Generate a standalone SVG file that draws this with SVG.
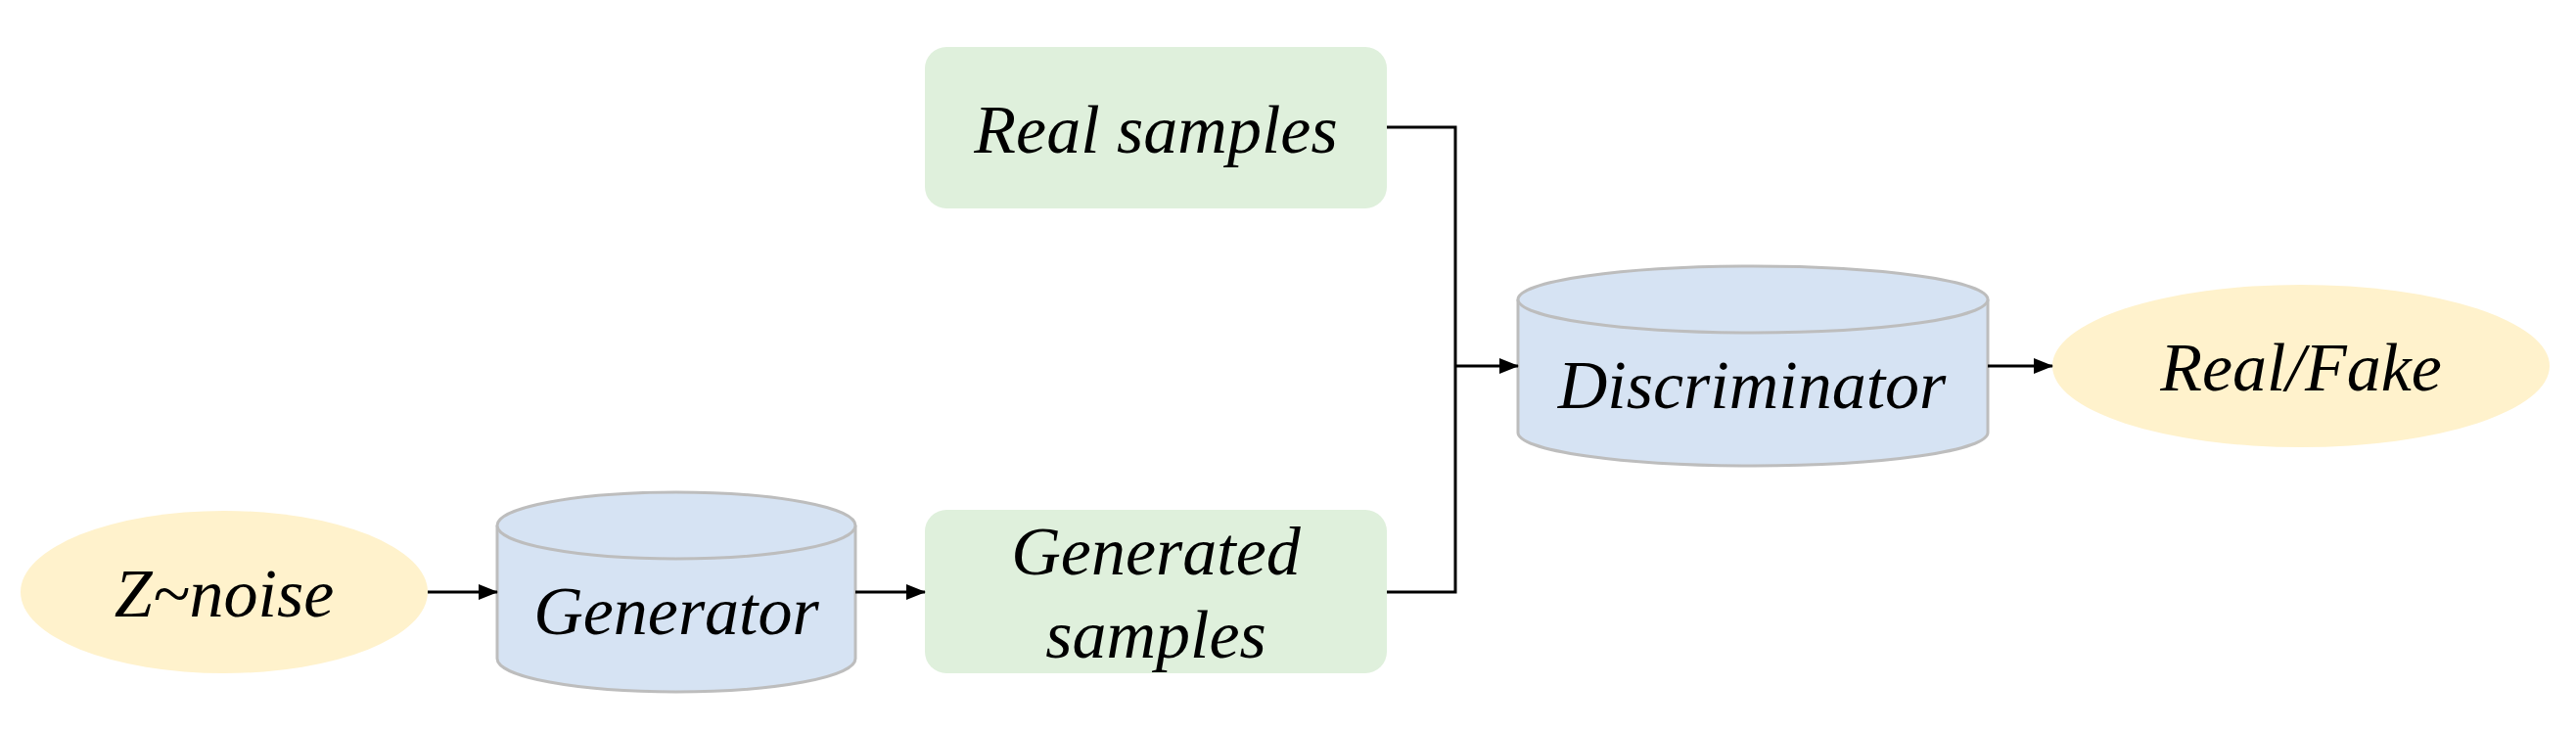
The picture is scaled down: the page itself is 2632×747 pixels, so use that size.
<svg xmlns="http://www.w3.org/2000/svg" width="2632" height="747" viewBox="0 0 2632 747">
<defs>
<style>
.t{font-family:"Liberation Serif","Times New Roman",serif;font-style:italic;font-size:70px;fill:#000;text-anchor:middle}
.ell{fill:#fff2cc;stroke:none}
.box{fill:#dff0dc;stroke:none}
.cyl{fill:#d6e3f3;stroke:#bdbdbd;stroke-width:3}
.c{fill:none;stroke:#000;stroke-width:3}
</style>
<marker id="a" markerWidth="10" markerHeight="10" refX="9" refY="5" orient="auto" markerUnits="userSpaceOnUse" viewBox="0 0 10 10"><path d="M0,0L10,5L0,10Z" fill="#000" transform="scale(1)"/></marker>
<marker id="ah" viewBox="0 0 20 20" markerWidth="20" markerHeight="20" refX="19" refY="10" orient="auto" markerUnits="userSpaceOnUse"><path d="M0,2L20,10L0,18Z" fill="#000"/></marker>
</defs>
<g id="noise"><ellipse class="ell" cx="229" cy="605" rx="208" ry="83"/><text class="t" x="229" y="630">Z~noise</text></g>
<g id="generator"><path class="cyl" d="M508,537 V673 A183,34 0 0 0 874,673 V537 A183,34 0 0 0 508,537 Z"/><path class="cyl" d="M508,537 A183,34 0 0 0 874,537"/><text class="t" x="691" y="648">Generator</text></g>
<g id="real"><rect class="box" x="945" y="48" width="472" height="165" rx="22"/><text class="t" x="1181" y="156">Real samples</text></g>
<g id="generated"><rect class="box" x="945" y="521" width="472" height="167" rx="22"/><text class="t" x="1181" y="587">Generated</text><text class="t" x="1181" y="672">samples</text></g>
<g id="discriminator"><path class="cyl" d="M1551,306 V442 A240,34 0 0 0 2031,442 V306 A240,34 0 0 0 1551,306 Z"/><path class="cyl" d="M1551,306 A240,34 0 0 0 2031,306"/><text class="t" x="1790" y="417">Discriminator</text></g>
<g id="output"><ellipse class="ell" cx="2351" cy="374" rx="254" ry="83"/><text class="t" x="2351" y="399">Real/Fake</text></g>
<g id="connectors">
<path class="c" d="M437,605H508" marker-end="url(#ah)"/>
<path class="c" d="M874,605H945" marker-end="url(#ah)"/>
<path class="c" d="M1417,130H1487V605H1417"/>
<path class="c" d="M1487,374H1551" marker-end="url(#ah)"/>
<path class="c" d="M2031,374H2097" marker-end="url(#ah)"/>
</g>
</svg>
